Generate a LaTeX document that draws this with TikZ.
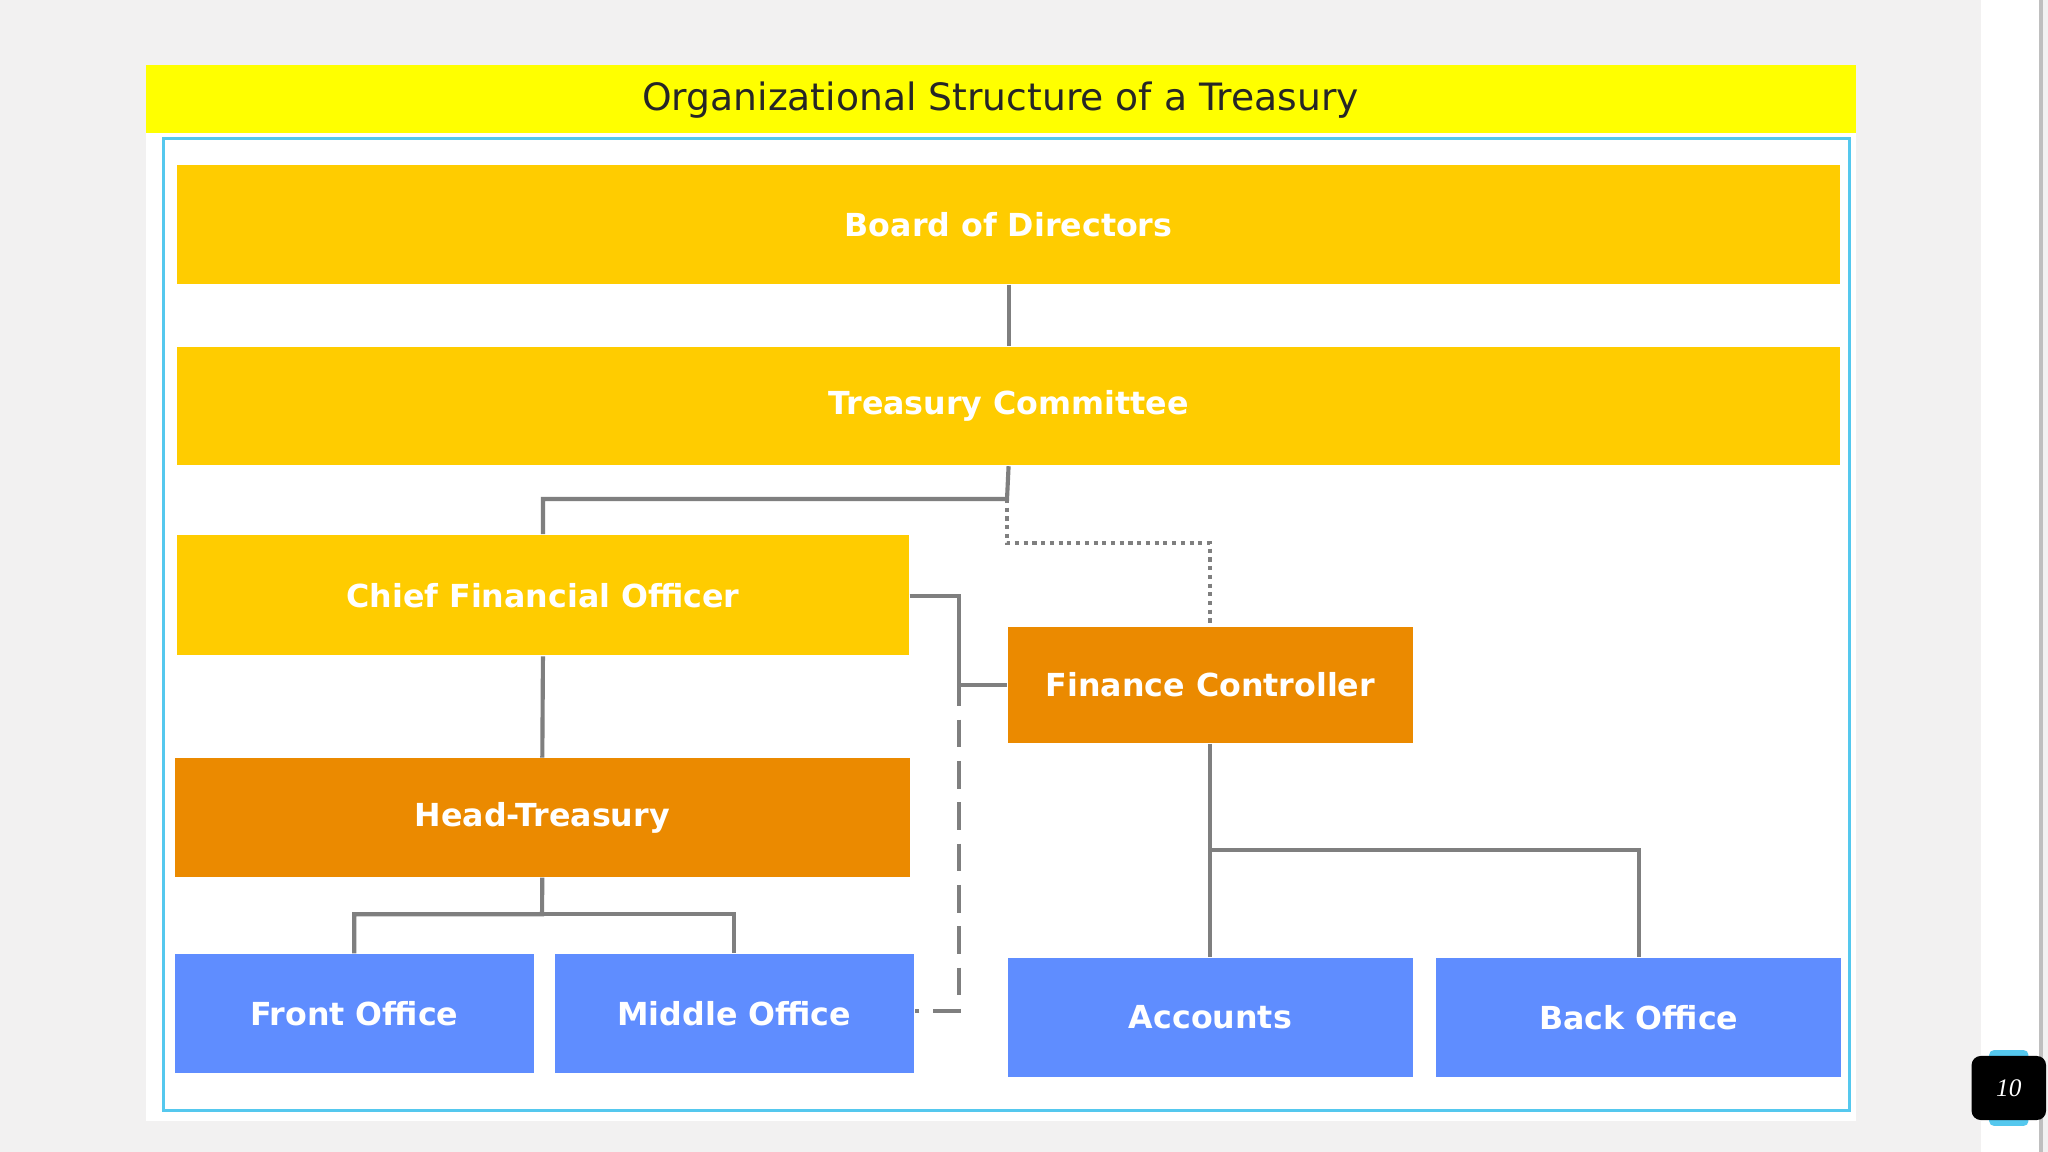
\documentclass[tikz,border=0pt]{standalone}
\usepackage{fontspec}
\setmainfont{DejaVu Sans}
\newfontfamily\pgfont{Liberation Serif}
\definecolor{bggray}{HTML}{F2F1F1}
\definecolor{ttl}{HTML}{FFFF00}
\definecolor{gold}{HTML}{FFCC00}
\definecolor{orng}{HTML}{EB8A00}
\definecolor{blu}{HTML}{5F8DFF}
\definecolor{cyanf}{HTML}{55C8EE}
\definecolor{conn}{HTML}{7F7F7F}
\tikzset{
 box/.style={draw=none,minimum width=#1*0.01cm,text=white,font=\fontsize{6.9}{8}\selectfont\bfseries,inner sep=0pt},
 hb/.style={minimum height=0.905cm},
 ln/.style={draw=conn,line width=0.9pt},
}
\begin{document}
\begin{tikzpicture}[x=0.01cm,y=-0.01cm]
\useasboundingbox (0,0) rectangle (1568,882);
\fill[bggray] (0,0) rectangle (1568,882);
\fill[white] (112,50) rectangle (1421,858);
\fill[white] (1517,0) rectangle (1561,882);
\fill[gray!50] (1561,0) rectangle (1564,882);
\fill[ttl] (112,50) rectangle (1421,102);
\node[font=\fontsize{8.2}{10}\selectfont,text=black!85] (title) at (766,77) {Organizational Structure of a Treasury};
\draw[cyanf,line width=0.6pt] (125,106) rectangle (1416,850);
\node[box=1273,hb,fill=gold,anchor=north west] (bod) at (135,126) {Board of Directors};
\node[box=1273,hb,fill=gold,anchor=north west] (tc) at (135,265) {Treasury Committee};
\node[box=560,minimum height=0.92cm,fill=gold,anchor=north west] (cfo) at (135,409) {Chief Financial Officer};
\node[box=310,minimum height=0.89cm,fill=orng,anchor=north west] (fc) at (771,479) {Finance Controller};
\node[box=563,hb,fill=orng,anchor=north west] (ht) at (133,580) {Head-Treasury};
\node[box=275,hb,fill=blu,anchor=north west] (fo) at (133,730) {Front Office};
\node[box=275,hb,fill=blu,anchor=north west] (mo) at (424,730) {Middle Office};
\node[box=310,hb,fill=blu,anchor=north west] (acc) at (771,733) {Accounts};
\node[box=310,hb,fill=blu,anchor=north west] (bo) at (1099,733) {Back Office};
\coordinate (j1) at (771,382);
\coordinate (j2) at (734,456);
\draw[ln] (bod.south) -- (tc.north);
\draw[ln] (tc.south) -- (j1) -| (cfo.north);
\draw[ln,densely dotted] (j1) -- (771,416) -| (fc.north);
\draw[ln] (cfo.east |- j2) -- (j2) |- (fc.west);
\draw[ln,dashed,dash pattern=on 6pt off 3pt] (j2) |- (mo.east |- 0,774);
\draw[ln] (cfo.south) -- (ht.north);
\draw[ln] (ht.south) -- (415,700) -| (fo.north);
\draw[ln] (415,700) -| (mo.north);
\draw[ln] (fc.south) -- (acc.north);
\draw[ln] (927,651) -| (bo.north);
\fill[cyanf,rounded corners=1pt] (1523,804) rectangle (1553,862);
\node[fill=black,rounded corners=2pt,minimum width=0.57cm,minimum height=0.49cm,text=white,font=\pgfont\itshape\fontsize{5.5}{6}\selectfont,inner sep=0pt] (pg) at (1538,833) {10};
\end{tikzpicture}
\end{document}
